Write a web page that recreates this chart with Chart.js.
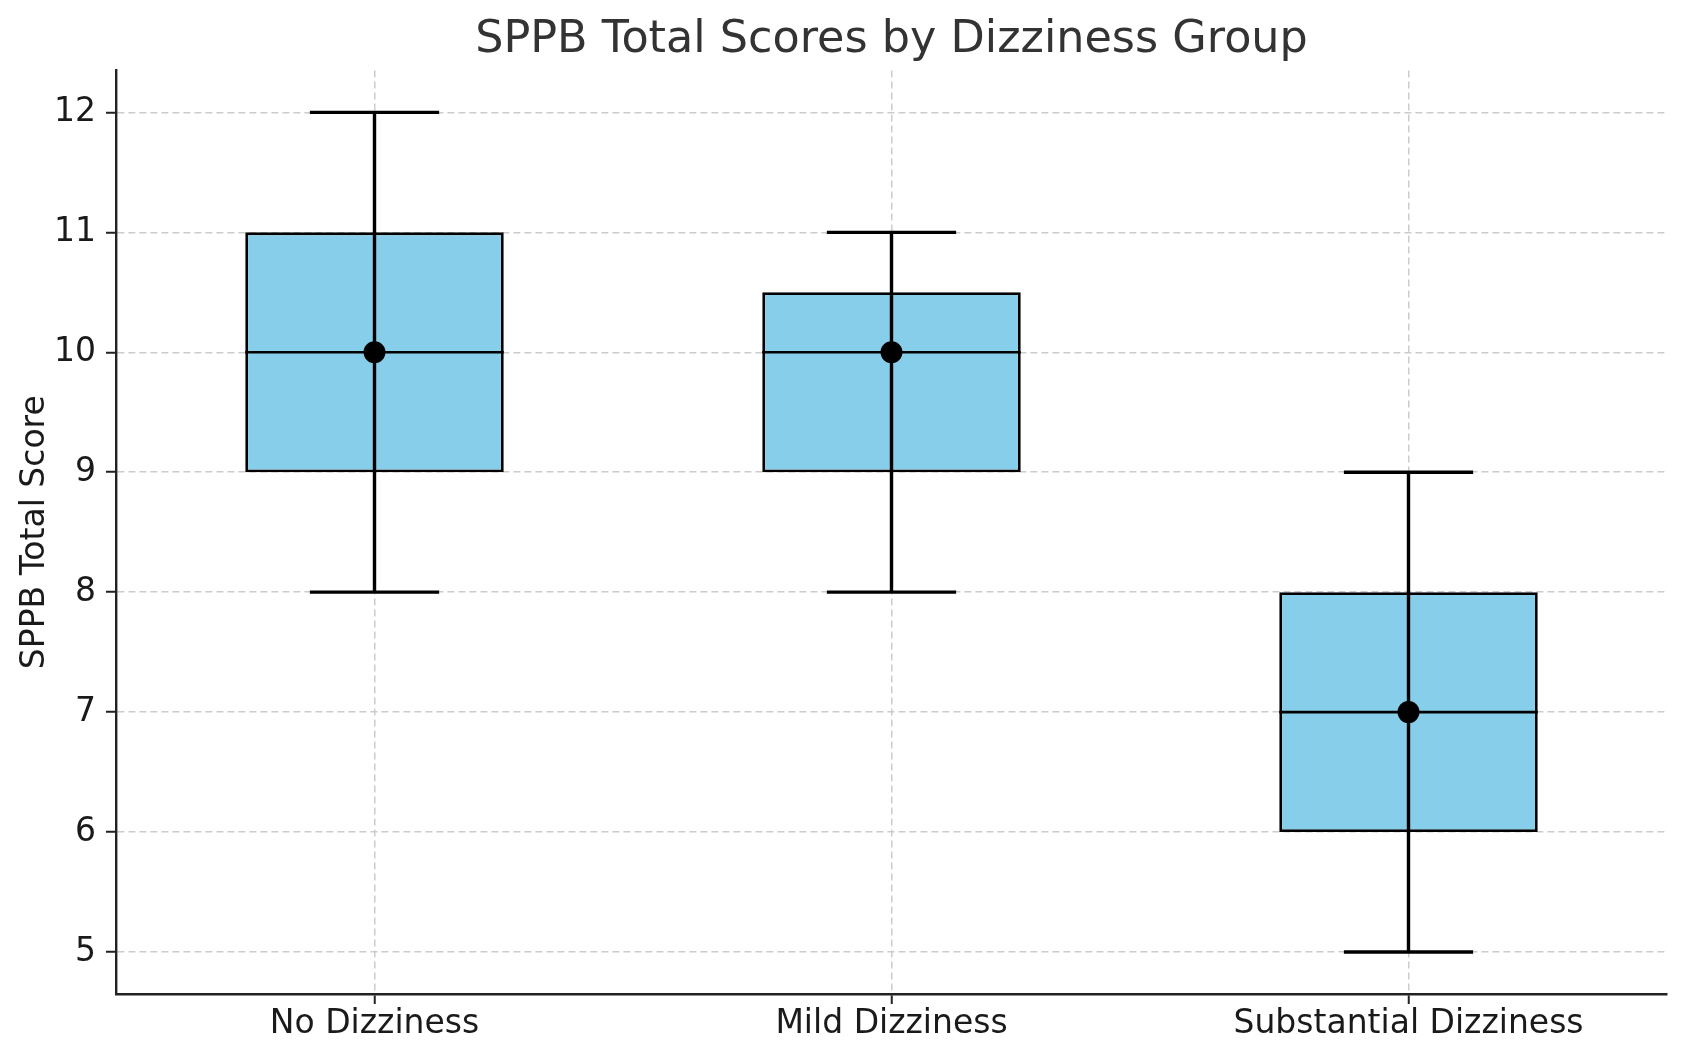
<!DOCTYPE html>
<html>
<head>
<meta charset="utf-8">
<script src="https://cdn.jsdelivr.net/npm/chart.js@4.4.0/dist/chart.umd.min.js"></script>
<style>
  html, body { margin: 0; padding: 0; background: #fff; }
  #wrap { width: 1686px; height: 1057px; }
</style>
</head>
<body>
<div id="wrap"><canvas id="box-chart" width="1686" height="1057"></canvas></div>
<script>
// box plot data
const groups = ["No Dizziness", "Mild Dizziness", "Substantial Dizziness"];
const whiskerLow = [8, 8, 5];
const q1 = [9, 9, 6];
const median = [10, 10, 7];
const q3 = [11, 10.5, 8];
const whiskerHigh = [12, 11, 9];
const means = [10, 10, 7];
const yTicks = [5, 6, 7, 8, 9, 10, 11, 12];

const FONT = "'DejaVu Sans', sans-serif";
const INK = "#000000";

// whiskers, caps and medians, drawn right after the boxes
const boxExtras = {
  id: "boxExtras",
  afterLayout(chart) {
    // centre the title over the plot area, like matplotlib does
    const tb = chart.titleBlock;
    if (tb) {
      tb.left = chart.chartArea.left;
      tb.right = chart.chartArea.right;
    }
  },
  afterDatasetDraw(chart, args) {
    if (args.index !== 0) return;
    const ctx = chart.ctx;
    const xs = chart.scales.x;
    const ys = chart.scales.y;
    const step = xs.getPixelForValue(1) - xs.getPixelForValue(0);
    ctx.save();
    ctx.strokeStyle = INK;
    for (let i = 0; i < groups.length; i++) {
      const cx = xs.getPixelForValue(i);
      const lo = ys.getPixelForValue(whiskerLow[i]);
      const hi = ys.getPixelForValue(whiskerHigh[i]);
      const md = ys.getPixelForValue(median[i]);
      const capHalf = step * 0.125;
      const boxHalf = step * 0.25;

      ctx.lineWidth = 2.6;
      ctx.beginPath();
      ctx.moveTo(cx - boxHalf, md);
      ctx.lineTo(cx + boxHalf, md);
      ctx.stroke();

      ctx.lineWidth = 3.4;
      ctx.beginPath();
      ctx.moveTo(cx, lo);
      ctx.lineTo(cx, hi);
      ctx.moveTo(cx - capHalf, lo);
      ctx.lineTo(cx + capHalf, lo);
      ctx.moveTo(cx - capHalf, hi);
      ctx.lineTo(cx + capHalf, hi);
      ctx.stroke();
    }
    ctx.restore();
  }
};

const ctx = document.getElementById("box-chart").getContext("2d");

new Chart(ctx, {
  data: {
    labels: groups,
    datasets: [
      {
        type: "bar",
        label: "IQR",
        data: groups.map((g, i) => [q1[i], q3[i]]),
        backgroundColor: "#87CEEB",
        borderColor: INK,
        borderWidth: 2.8,
        borderSkipped: false,
        categoryPercentage: 1.0,
        barPercentage: 0.5,
        order: 2
      },
      {
        type: "line",
        label: "Mean",
        data: means,
        showLine: false,
        pointRadius: 11,
        pointBackgroundColor: INK,
        pointBorderColor: INK,
        pointBorderWidth: 0,
        order: 1
      }
    ]
  },
  options: {
    responsive: false,
    animation: false,
    layout: { padding: { left: 0, right: 19, top: 0, bottom: 0 } },
    plugins: {
      legend: { display: false },
      tooltip: { enabled: false },
      title: {
        display: true,
        text: "SPPB Total Scores by Dizziness Group",
        color: "#333333",
        font: { family: FONT, size: 44.5, weight: "normal" },
        padding: { top: 14, bottom: 3 }
      }
    },
    scales: {
      x: {
        type: "category",
        offset: true,
        grid: {
          offset: false,
          color: "#cccccc",
          lineWidth: 1.5,
          tickLength: 10,
          tickColor: "#222222",
          tickWidth: 2,
          tickBorderDash: []
        },
        border: { display: true, color: "#222222", width: 2.4, dash: [7, 4] },
        ticks: {
          color: "#1a1a1a",
          padding: 1,
          font: { family: FONT, size: 33 },
          maxRotation: 0
        },
        afterFit(scale) { scale.height = 63; }
      },
      y: {
        type: "linear",
        min: 4.65,
        max: 12.35,
        afterBuildTicks(scale) {
          scale.ticks = yTicks.map(v => ({ value: v }));
        },
        grid: {
          color: "#cccccc",
          lineWidth: 1.5,
          tickLength: 10,
          tickColor: "#222222",
          tickWidth: 2,
          tickBorderDash: []
        },
        border: { display: true, color: "#222222", width: 2.4, dash: [7, 4] },
        ticks: {
          color: "#1a1a1a",
          padding: 10,
          font: { family: FONT, size: 33 }
        },
        title: {
          display: true,
          text: "SPPB Total Score",
          color: "#1a1a1a",
          font: { family: FONT, size: 33 },
          padding: { top: 16, bottom: 0 }
        },
        afterFit(scale) { scale.width = 116; }
      }
    }
  },
  plugins: [boxExtras]
});
</script>
</body>
</html>
